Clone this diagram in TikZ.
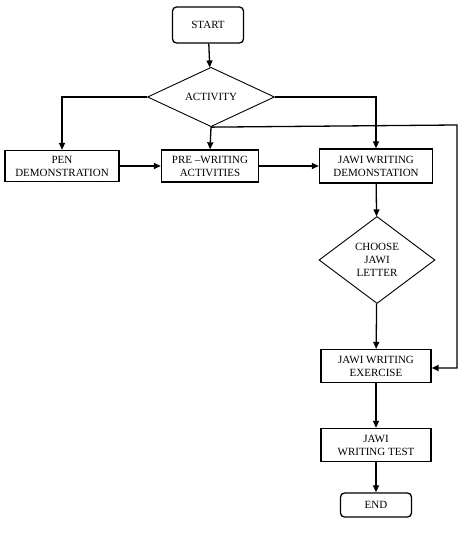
\documentclass[tikz,border=0pt]{standalone}
\usepackage{fontspec}
\setmainfont{Liberation Serif}
\usetikzlibrary{shapes}
\usetikzlibrary{shapes.geometric}
\usetikzlibrary{arrows.meta}
\tikzset{
    stepbox/.style = {rectangle, line width=1.3pt, draw=black, align=center, inner sep=1pt},
    termbox/.style = {rectangle, rounded corners=4pt, line width=1.3pt, draw=black, align=center},
    decision/.style = {diamond, line width=0.9pt, draw=black, align=center, inner sep=0pt},
    edgen/.style = {-{Triangle[length=7pt,width=6pt]},line width=1.3pt},
    every picture/.style={font issue=\fontsize{11}{13}},
    font issue/.style={execute at begin picture={#1\selectfont}
  }
}
\begin{document}
\begin{tikzpicture}[x=1pt,y=1pt]
%
\path[use as bounding box] (0,0) rectangle (474,534);
%
\node[termbox,minimum width=71pt,minimum height=36pt] at (208,509) (start) {START};
\node[decision,minimum width=127pt,minimum height=57pt] at (211,437) (activity) {ACTIVITY};
\node[stepbox,minimum width=114pt,minimum height=31pt] at (62,368) (pen) {PEN\\DEMONSTRATION};
\node[stepbox,minimum width=97pt,minimum height=32pt] at (210,368) (pre) {PRE --WRITING\\ACTIVITIES};
\node[stepbox,minimum width=113pt,minimum height=34pt] at (376,368) (jawidem) {JAWI WRITING\\DEMONSTATION};
\node[decision,minimum width=116pt,minimum height=87pt] at (377,274) (choose) {CHOOSE\\JAWI\\LETTER};
\node[stepbox,minimum width=110pt,minimum height=33pt] at (376,168) (exercise) {JAWI WRITING\\EXERCISE};
\node[stepbox,minimum width=110pt,minimum height=33pt] at (376,89) (test) {JAWI\\WRITING TEST};
\node[termbox,minimum width=71pt,minimum height=24pt] at (376,29) (end) {END};
\coordinate (turn) at (457,409);
%
\draw[edgen] (start) -- (activity);
\draw[edgen] (activity.west) -| (pen.north);
\draw[edgen] (activity.south) -- (pre.north);
\draw[edgen] (activity.east) -| (jawidem.north);
\draw[edgen] (activity.south) -- (turn) |- ([yshift=-2pt]exercise.east);
\draw[edgen] (pen) -- (pre);
\draw[edgen] (pre) -- (jawidem);
\draw[edgen] (jawidem) -- (choose);
\draw[edgen] (choose) -- (exercise);
\draw[edgen] (exercise) -- (test);
\draw[edgen] (test) -- (end);

\end{tikzpicture}
\end{document}
